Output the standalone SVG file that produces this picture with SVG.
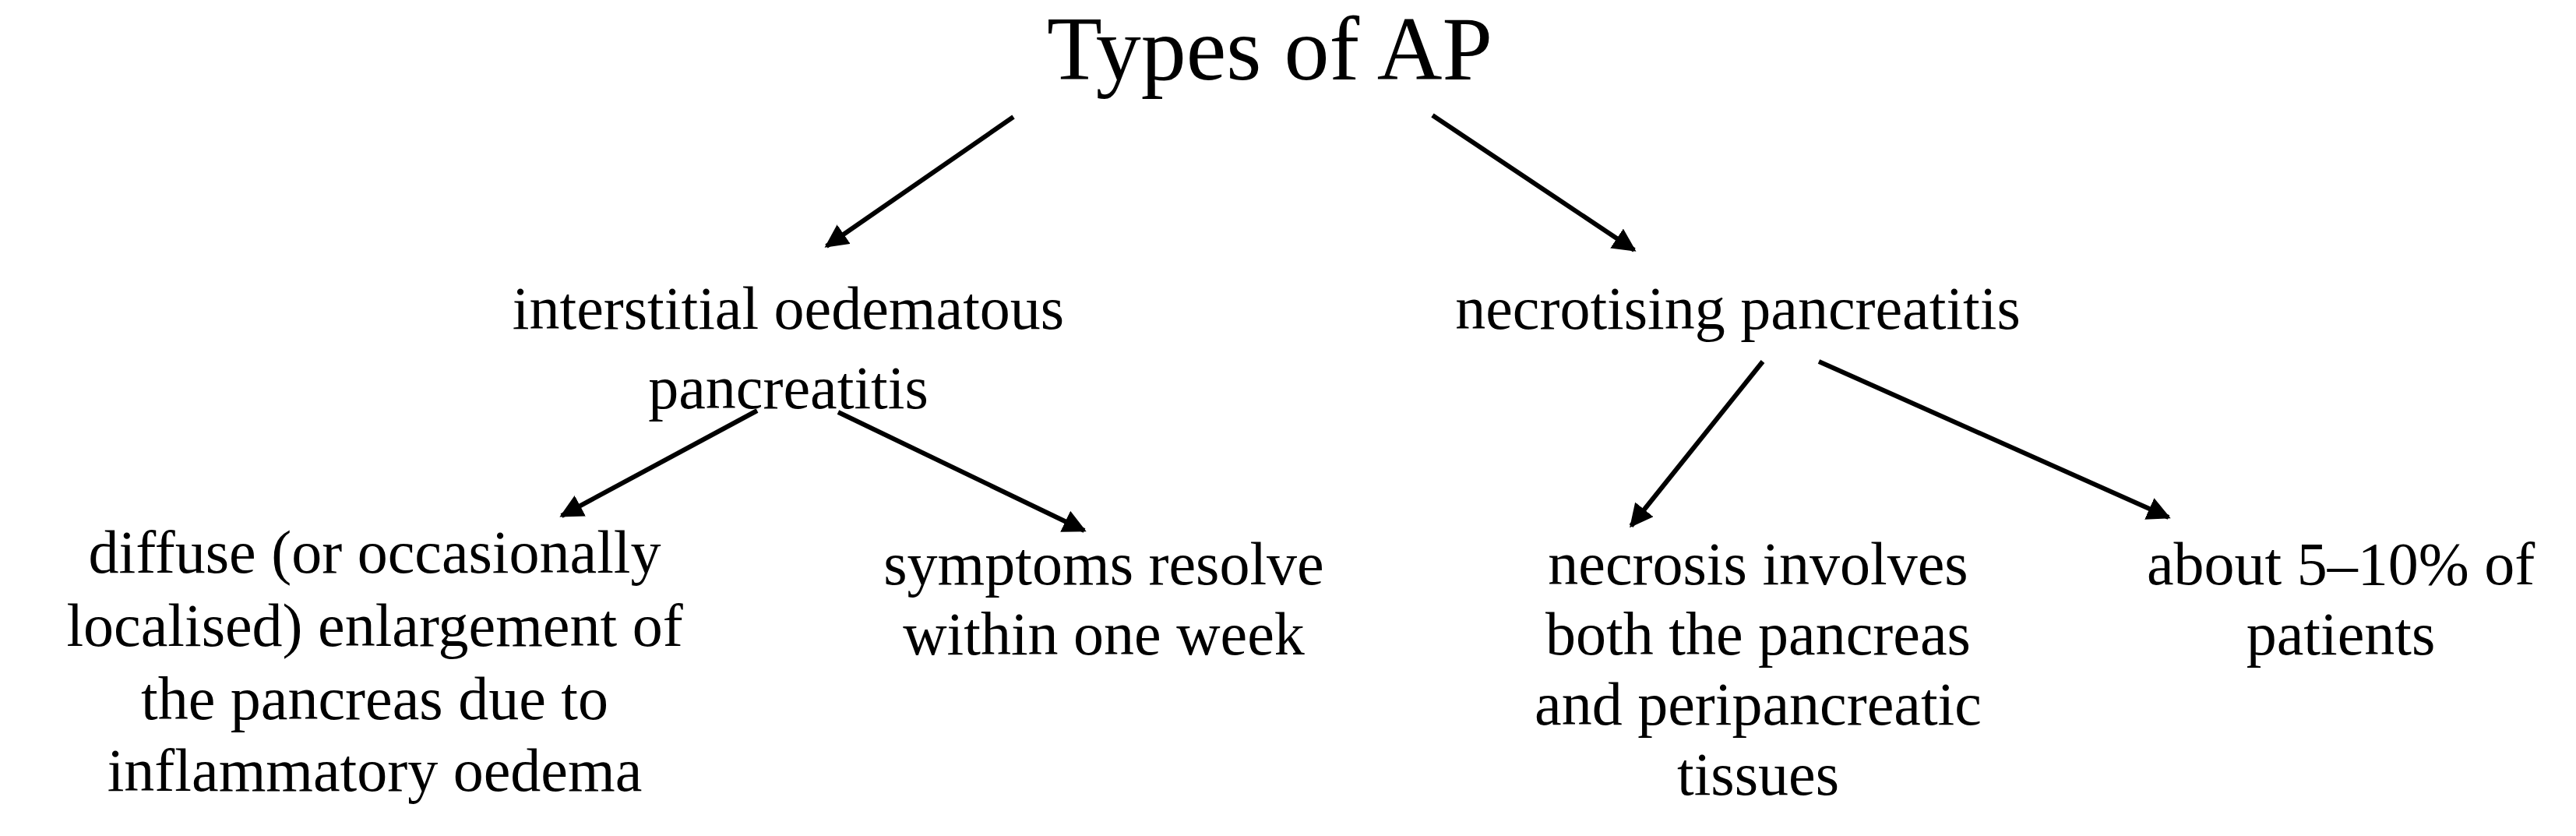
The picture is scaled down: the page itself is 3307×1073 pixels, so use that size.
<svg xmlns="http://www.w3.org/2000/svg" width="3307" height="1073" viewBox="0 0 3307 1073">
<style>
text{font-family:"Liberation Serif","DejaVu Serif",serif;fill:#000;text-anchor:middle}
.t{font-size:116px}
.b{font-size:78px}
.c{stroke:#000;stroke-width:6;fill:none;marker-end:url(#ah)}
</style>
<defs><marker id="ah" viewBox="0 0 10 10" refX="9" refY="5" markerWidth="5" markerHeight="5" orient="auto" markerUnits="strokeWidth"><path d="M0,0 L10,5 L0,10 z" fill="#000"/></marker></defs>
<rect width="3307" height="1073" fill="#fff"/>
<g id="title"><text class="t" x="1630" y="102">Types of AP</text></g>
<g id="iop"><text class="b" x="1012" y="422">interstitial oedematous</text><text class="b" x="1012" y="524">pancreatitis</text></g>
<g id="np"><text class="b" x="2231" y="422">necrotising pancreatitis</text></g>
<g id="diffuse"><text class="b" x="481" y="735">diffuse (or occasionally</text><text class="b" x="481" y="829">localised) enlargement of</text><text class="b" x="481" y="923">the pancreas due to</text><text class="b" x="481" y="1015">inflammatory oedema</text></g>
<g id="symptoms"><text class="b" x="1417" y="750">symptoms resolve</text><text class="b" x="1417" y="840">within one week</text></g>
<g id="necrosis"><text class="b" x="2257" y="750">necrosis involves</text><text class="b" x="2257" y="840">both the pancreas</text><text class="b" x="2257" y="930">and peripancreatic</text><text class="b" x="2257" y="1020">tissues</text></g>
<g id="about"><text class="b" x="3005" y="750">about 5–10% of</text><text class="b" x="3005" y="840">patients</text></g>
<g id="connectors">
<line class="c" x1="1301" y1="150" x2="1061" y2="316"/>
<line class="c" x1="1839" y1="148" x2="2098" y2="321"/>
<line class="c" x1="972" y1="527" x2="721" y2="662"/>
<line class="c" x1="1076" y1="529" x2="1392" y2="681"/>
<line class="c" x1="2263" y1="464" x2="2094" y2="675"/>
<line class="c" x1="2335" y1="464" x2="2784" y2="664"/>
</g>
</svg>
